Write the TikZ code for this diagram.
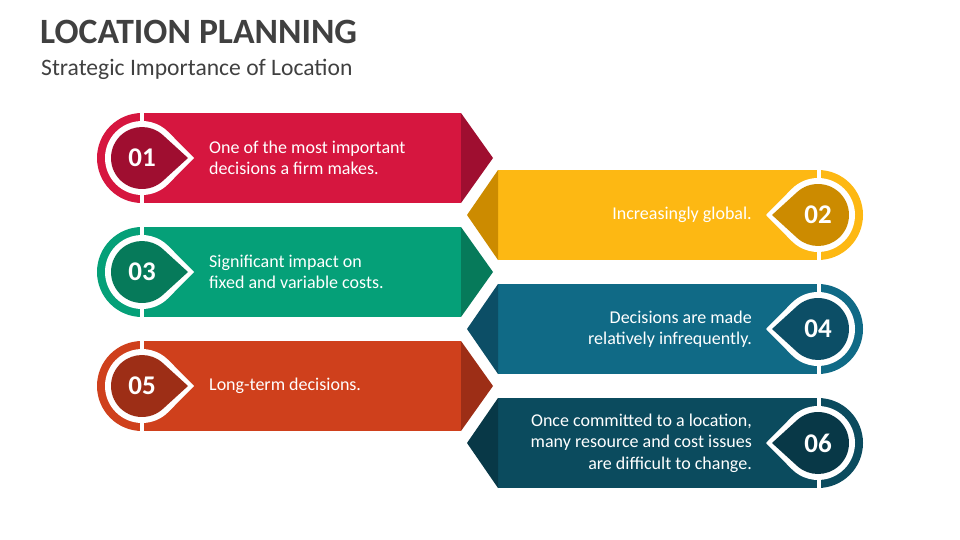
\documentclass[tikz,border=0pt]{standalone}
\usepackage{fontspec}
\setmainfont{Carlito}
\usepackage{tikz}
\usetikzlibrary{calc}

\definecolor{titlegray}{HTML}{404040}
\definecolor{redA}{HTML}{D6163F}
\definecolor{redB}{HTML}{9F0E30}
\definecolor{yellowA}{HTML}{FDB813}
\definecolor{yellowB}{HTML}{CC8B00}
\definecolor{greenA}{HTML}{05A078}
\definecolor{greenB}{HTML}{067A5A}
\definecolor{tealA}{HTML}{106A86}
\definecolor{tealB}{HTML}{0C4E66}
\definecolor{orangeA}{HTML}{CF401C}
\definecolor{orangeB}{HTML}{9D2E16}
\definecolor{navyA}{HTML}{0B4B5E}
\definecolor{navyB}{HTML}{083847}

\begin{document}
\begin{tikzpicture}
[x=1pt,y=-1pt,
   body text/.style={text=white,inner sep=0pt,font=\fontsize{18}{21.5}\selectfont},
   num text/.style={text=white,inner sep=0pt,font=\bfseries\fontsize{27}{27}\selectfont}]
\useasboundingbox (0,0) rectangle (960,540);

\node[anchor=base west,inner sep=0pt,text=titlegray,font=\bfseries\fontsize{35.6}{36}\selectfont] (title) at (40,44) {LOCATION PLANNING};
\node[anchor=base west,inner sep=0pt,text=titlegray,font=\fontsize{23.6}{24}\selectfont] (subtitle) at (41,76) {Strategic Importance of Location};

% left banners
\foreach \cy/\light/\dark/\num/\txt in {
   158/redA/redB/01/{One of the most important\\decisions a firm makes.},
   272/greenA/greenB/03/{Significant impact on\\fixed and variable costs.},
   386/orangeA/orangeB/05/{Long-term decisions.}}
{
  \fill[\light] (142,\cy) circle[radius=45];
  \fill[\light] (142,\cy-45) rectangle (461,\cy+45);
  \fill[\dark] (461,\cy-45) -- (493,\cy) -- (461,\cy+45) -- cycle;
  \fill[white] (139.5,\cy-46) rectangle (143.5,\cy+46);
  \fill[white] (194,\cy) -- ($(142,\cy)+(44.6:37)$) arc[start angle=44.6,end angle=315.4,radius=37] -- cycle;
  \fill[\dark] (188,\cy) -- ($(142,\cy)+(47.6:31)$) arc[start angle=47.6,end angle=312.4,radius=31] -- cycle;
  \node[num text] (n\num) at (142,\cy) {\num};
  \node[body text,anchor=west,align=left] (t\num) at (209,\cy) {\txt};
}

% right banners
\foreach \cy/\light/\dark/\num/\txt in {
   215/yellowA/yellowB/02/{Increasingly global.},
   329/tealA/tealB/04/{Decisions are made\\relatively infrequently.},
   443/navyA/navyB/06/{Once committed to a location,\\many resource and cost issues\\are difficult to change.}}
{
  \fill[\light] (818,\cy) circle[radius=45];
  \fill[\light] (498,\cy-45) rectangle (818,\cy+45);
  \fill[\dark] (498,\cy-45) -- (467,\cy) -- (498,\cy+45) -- cycle;
  \fill[white] (816.5,\cy-46) rectangle (820.5,\cy+46);
  \fill[white] (766,\cy) -- ($(818,\cy)+(-135.4:37)$) arc[start angle=-135.4,end angle=135.4,radius=37] -- cycle;
  \fill[\dark] (772,\cy) -- ($(818,\cy)+(-132.4:31)$) arc[start angle=-132.4,end angle=132.4,radius=31] -- cycle;
  \node[num text] (n\num) at (818,\cy) {\num};
  \node[body text,anchor=east,align=right] (t\num) at (752,\cy) {\txt};
}

\end{tikzpicture}
\end{document}
